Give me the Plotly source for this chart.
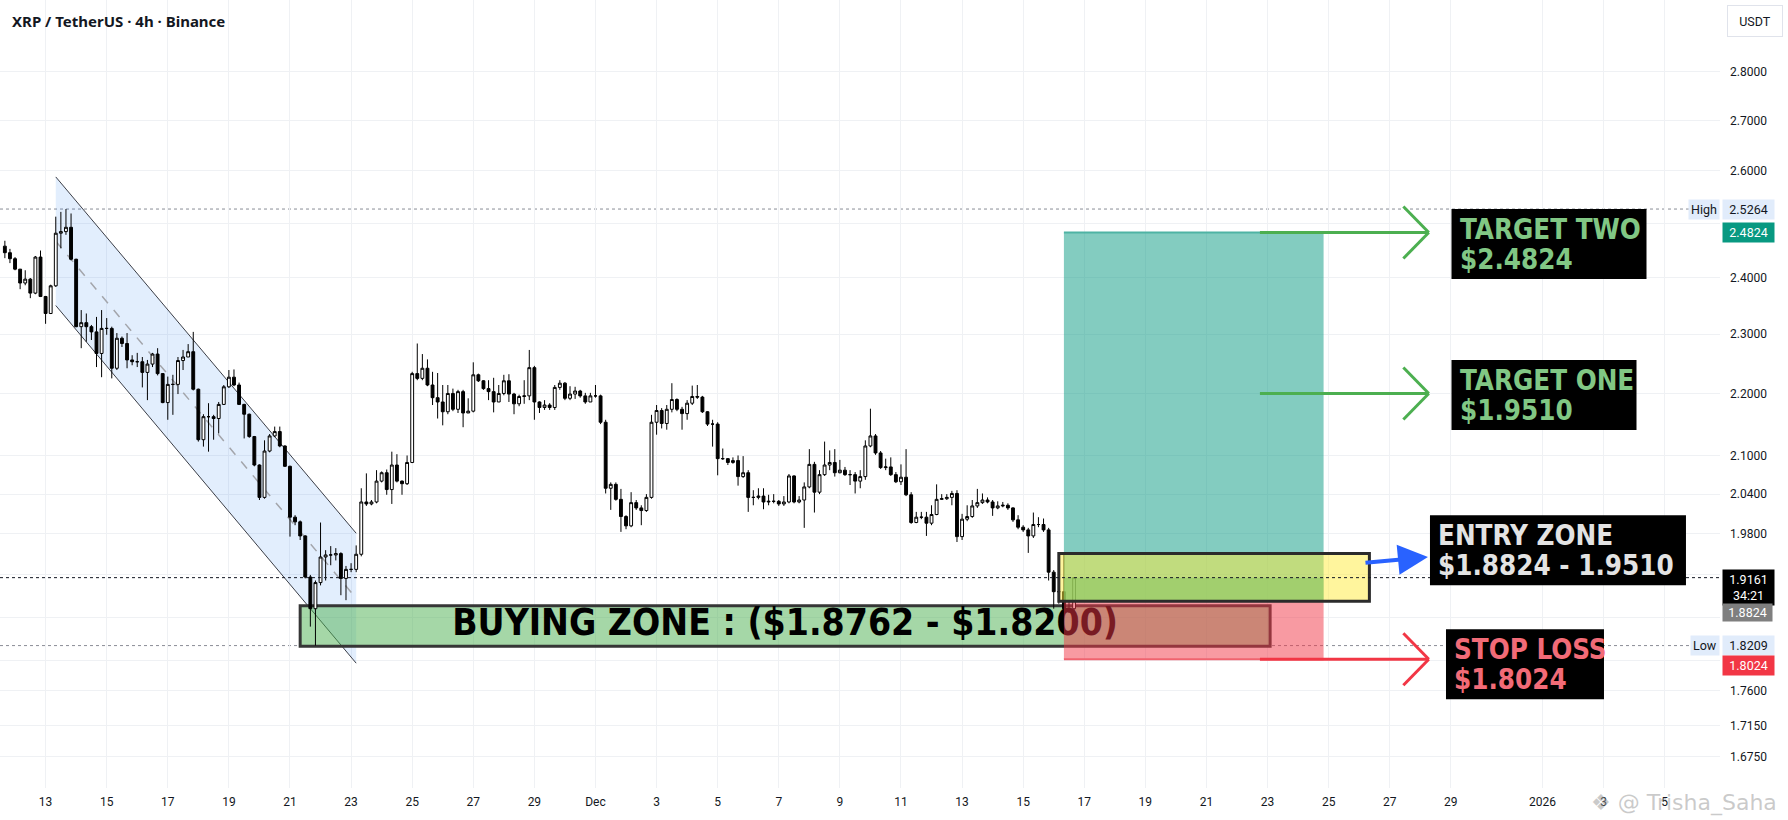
import math
import pandas as pd
import plotly.graph_objects as go

# ---------------- candle data (XRP / USDT, 4h) ----------------
candle_start = "2025-11-11 16:00"
candle_step = "4h"
first_open = 2.457
closes = [
    2.445, 2.434, 2.415, 2.390, 2.397, 2.372, 2.437, 2.366, 2.336, 2.385,
    2.481, 2.484, 2.492, 2.433, 2.313, 2.320, 2.313, 2.304, 2.267, 2.310,
    2.310, 2.242, 2.293, 2.284, 2.256, 2.253, 2.253, 2.235, 2.249, 2.266,
    2.233, 2.185, 2.215, 2.215, 2.255, 2.261, 2.270, 2.207, 2.125, 2.162,
    2.162, 2.159, 2.182, 2.211, 2.227, 2.214, 2.182, 2.166, 2.130, 2.085,
    2.035, 2.107, 2.131, 2.138, 2.115, 2.083, 2.005, 1.998, 1.977, 1.917,
    1.872, 1.909, 1.946, 1.949, 1.949, 1.951, 1.915, 1.928, 1.928, 1.950,
    2.028, 2.025, 2.028, 2.060, 2.073, 2.047, 2.085, 2.060, 2.056, 2.089,
    2.233, 2.225, 2.242, 2.214, 2.193, 2.186, 2.170, 2.200, 2.174, 2.203,
    2.168, 2.171, 2.231, 2.221, 2.208, 2.203, 2.186, 2.200, 2.221, 2.199,
    2.183, 2.195, 2.196, 2.243, 2.186, 2.177, 2.181, 2.177, 2.210, 2.217,
    2.192, 2.199, 2.204, 2.196, 2.186, 2.196, 2.196, 2.153, 2.049, 2.055,
    2.032, 2.006, 1.992, 2.027, 2.019, 2.015, 2.035, 2.153, 2.172, 2.151,
    2.174, 2.190, 2.174, 2.167, 2.184, 2.195, 2.194, 2.170, 2.150, 2.150,
    2.095, 2.095, 2.089, 2.092, 2.067, 2.073, 2.035, 2.035, 2.037, 2.028,
    2.029, 2.029, 2.025, 2.028, 2.068, 2.028, 2.031, 2.051, 2.086, 2.043,
    2.070, 2.085, 2.089, 2.073, 2.077, 2.070, 2.070, 2.060, 2.067, 2.115,
    2.131, 2.104, 2.081, 2.082, 2.070, 2.059, 2.066, 2.039, 1.997, 2.005,
    2.005, 1.996, 2.009, 2.032, 2.033, 2.035, 2.041, 1.976, 2.002, 2.006,
    2.022, 2.027, 2.031, 2.028, 2.019, 2.022, 2.023, 2.019, 2.001, 1.990,
    1.986, 1.977, 1.994, 1.994, 1.986, 1.924, 1.896, 1.896, 1.872, 1.872,
    1.9161,
]
highs = [
    2.467, 2.452, 2.437, 2.415, 2.413, 2.399, 2.439, 2.449, 2.367, 2.387,
    2.512, 2.521, 2.5264, 2.518, 2.434, 2.342, 2.336, 2.316, 2.330, 2.342,
    2.328, 2.313, 2.302, 2.296, 2.302, 2.264, 2.268, 2.261, 2.256, 2.268,
    2.276, 2.234, 2.228, 2.231, 2.261, 2.273, 2.283, 2.304, 2.208, 2.166,
    2.184, 2.165, 2.186, 2.214, 2.239, 2.240, 2.218, 2.183, 2.167, 2.131,
    2.086, 2.124, 2.134, 2.146, 2.146, 2.116, 2.084, 2.008, 2.000, 1.978,
    1.920, 1.912, 1.997, 1.956, 1.962, 1.959, 1.953, 1.933, 1.937, 1.963,
    2.049, 2.072, 2.031, 2.077, 2.075, 2.078, 2.106, 2.102, 2.061, 2.100,
    2.236, 2.284, 2.266, 2.257, 2.236, 2.234, 2.214, 2.214, 2.208, 2.206,
    2.206, 2.192, 2.252, 2.233, 2.222, 2.222, 2.226, 2.214, 2.231, 2.232,
    2.201, 2.198, 2.222, 2.273, 2.246, 2.187, 2.189, 2.184, 2.214, 2.222,
    2.219, 2.212, 2.211, 2.206, 2.201, 2.201, 2.214, 2.198, 2.157, 2.058,
    2.058, 2.048, 2.008, 2.043, 2.031, 2.023, 2.040, 2.165, 2.181, 2.176,
    2.181, 2.217, 2.192, 2.178, 2.189, 2.213, 2.214, 2.196, 2.171, 2.157,
    2.153, 2.111, 2.096, 2.097, 2.100, 2.099, 2.077, 2.046, 2.049, 2.049,
    2.039, 2.040, 2.031, 2.037, 2.071, 2.069, 2.037, 2.058, 2.110, 2.090,
    2.077, 2.122, 2.108, 2.110, 2.093, 2.082, 2.077, 2.074, 2.077, 2.124,
    2.175, 2.134, 2.107, 2.095, 2.097, 2.074, 2.086, 2.110, 2.043, 2.013,
    2.013, 2.013, 2.023, 2.055, 2.040, 2.040, 2.045, 2.046, 2.010, 2.023,
    2.031, 2.048, 2.041, 2.035, 2.031, 2.029, 2.028, 2.026, 2.020, 2.008,
    1.993, 1.989, 2.012, 2.005, 2.003, 1.989, 1.927, 1.905, 1.949, 1.884,
    1.917,
]
lows = [
    2.435, 2.426, 2.413, 2.379, 2.386, 2.363, 2.370, 2.365, 2.318, 2.335,
    2.383, 2.453, 2.478, 2.431, 2.312, 2.276, 2.287, 2.290, 2.244, 2.227,
    2.299, 2.225, 2.239, 2.278, 2.242, 2.247, 2.244, 2.210, 2.189, 2.244,
    2.230, 2.184, 2.157, 2.165, 2.199, 2.239, 2.261, 2.205, 2.122, 2.114,
    2.106, 2.125, 2.135, 2.181, 2.209, 2.212, 2.181, 2.127, 2.128, 2.083,
    2.031, 2.033, 2.105, 2.129, 2.113, 2.082, 1.976, 1.993, 1.971, 1.915,
    1.847, 1.8209, 1.905, 1.912, 1.934, 1.941, 1.891, 1.884, 1.924, 1.924,
    1.947, 2.022, 2.023, 2.026, 2.058, 2.039, 2.025, 2.058, 2.039, 2.054,
    2.088, 2.222, 2.222, 2.212, 2.181, 2.159, 2.148, 2.166, 2.171, 2.168,
    2.145, 2.168, 2.169, 2.219, 2.206, 2.189, 2.169, 2.186, 2.197, 2.186,
    2.166, 2.179, 2.183, 2.189, 2.157, 2.168, 2.173, 2.173, 2.173, 2.206,
    2.189, 2.189, 2.191, 2.193, 2.183, 2.186, 2.193, 2.150, 2.041, 2.016,
    2.030, 1.983, 1.987, 1.990, 2.016, 1.993, 2.013, 2.033, 2.133, 2.143,
    2.141, 2.169, 2.171, 2.141, 2.157, 2.181, 2.191, 2.168, 2.147, 2.114,
    2.069, 2.093, 2.085, 2.087, 2.053, 2.065, 2.013, 2.023, 2.032, 2.017,
    2.023, 2.026, 2.022, 2.022, 2.026, 2.026, 2.026, 1.989, 2.049, 2.012,
    2.040, 2.068, 2.077, 2.067, 2.072, 2.068, 2.054, 2.041, 2.049, 2.062,
    2.113, 2.101, 2.079, 2.077, 2.068, 2.057, 2.054, 2.037, 1.995, 1.996,
    2.002, 1.977, 1.993, 2.008, 2.031, 2.031, 2.023, 1.968, 1.971, 1.999,
    2.004, 2.019, 2.025, 2.026, 2.007, 2.017, 2.020, 2.016, 1.998, 1.987,
    1.983, 1.952, 1.974, 1.990, 1.983, 1.912, 1.872, 1.879, 1.865, 1.866,
    1.867,
]
assert len(closes) == len(highs) == len(lows)

# ---------------- axis ticks ----------------
x_tick_dates = ["2025-11-13", "2025-11-15", "2025-11-17", "2025-11-19", "2025-11-21",
                "2025-11-23", "2025-11-25", "2025-11-27", "2025-11-29", "2025-12-01",
                "2025-12-03", "2025-12-05", "2025-12-07", "2025-12-09", "2025-12-11",
                "2025-12-13", "2025-12-15", "2025-12-17", "2025-12-19", "2025-12-21",
                "2025-12-23", "2025-12-25", "2025-12-27", "2025-12-29", "2026-01-01",
                "2026-01-03", "2026-01-05"]
x_tick_labels = ["13", "15", "17", "19", "21", "23", "25", "27", "29", "Dec",
                 "3", "5", "7", "9", "11", "13", "15", "17", "19", "21",
                 "23", "25", "27", "29", "2026", "3", "5"]
y_tick_values = [2.8, 2.7, 2.6, 2.5, 2.4, 2.3, 2.2, 2.1, 2.04, 1.98, 1.92, 1.86, 1.80,
                 1.76, 1.715, 1.675]
y_tick_hidden = [2.5, 1.92, 1.86, 1.80]
x_view = ["2025-11-11 12:11", "2026-01-06 19:26"]
y_view = [1.6364, 2.9553]

# ---------------- key prices ----------------
high_price = 2.5264
low_price = 1.8209
last_price = 1.9161
countdown = "34:21"

# descending channel (anchor dates / prices)
channel_dates = ["2025-11-13 08:00", "2025-11-23 04:00"]
channel_upper = [2.588, 1.981]
channel_lower = [2.350, 1.797]

# buying zone
buy_zone_dates = ["2025-11-21 08:00", "2025-12-23 02:00"]
buy_zone_prices = [1.8200, 1.8762]
buy_zone_label = "BUYING ZONE : ($1.8762 - $1.8200)"

# long position tool
position_dates = ["2025-12-16 08:00", "2025-12-24 20:00"]
entry_price = 1.8824
target_price = 2.4824
stop_price = 1.8024
entry_zone_dates = ["2025-12-16 04:00", "2025-12-26 08:00"]
entry_zone_prices = [1.8824, 1.9510]

# arrows
arrow_dates = ["2025-12-22 18:00", "2025-12-28 06:40"]
arrow_prices = [2.4824, 2.200, 1.8024]
arrow_colors = ["#4caf50", "#4caf50", "#f23645"]
blue_arrow_date = "2025-12-28 06:00"
blue_arrow_price = 1.946

# text labels: lines, anchor date, centre price, text colour, box width
labels = [
    (["TARGET TWO", "$2.4824"], "2025-12-29 00:30", 2.4610, "#81c784", 195),
    (["TARGET ONE", "$1.9510"], "2025-12-29 00:30", 2.1974, "#81c784", 185),
    (["ENTRY ZONE", "$1.8824 - 1.9510"], "2025-12-28 07:35", 1.9560, "#e3e3e3", 256),
    (["STOP LOSS", "$1.8024"], "2025-12-28 20:10", 1.7957, "#f26b77", 158),
]

# ---------------- styles ----------------
AX_FONT = "Roboto, Noto Sans, sans-serif"
LABEL_FONT = "DejaVu Sans Condensed, Liberation Sans Narrow, DejaVu Sans, sans-serif"
GRID = "#eff1f4"
HEAD_HOURS = 20
HEAD_RATIO = 1.0197
LABEL_HALF_RATIO = 1.0266   # half label-box height on the log price scale


def pdate(s):
    return pd.Timestamp(s).strftime("%Y-%m-%d_%H:%M:%S")


def tstr(t):
    return pd.Timestamp(t).strftime("%Y-%m-%d %H:%M:%S")


times = pd.date_range(candle_start, periods=len(closes), freq=candle_step)
opens = [first_open] + closes[:-1]

fig = go.Figure()

shapes = []
# channel fill
d0, d1 = pdate(channel_dates[0]), pdate(channel_dates[1])
shapes.append(dict(
    type="path", xref="x", yref="y", layer="between",
    path=f"M {d0},{channel_upper[0]} L {d1},{channel_upper[1]} L {d1},{channel_lower[1]} L {d0},{channel_lower[0]} Z",
    fillcolor="rgba(33,120,243,0.13)", line=dict(width=0)))
for prices in (channel_upper, channel_lower):
    shapes.append(dict(type="line", xref="x", yref="y", layer="between",
                       x0=channel_dates[0], x1=channel_dates[1], y0=prices[0], y1=prices[1],
                       line=dict(color="#3b3e47", width=1)))
mid0 = math.sqrt(channel_upper[0] * channel_lower[0])
mid1 = math.sqrt(channel_upper[1] * channel_lower[1])
shapes.append(dict(type="line", xref="x", yref="y", layer="between",
                   x0=channel_dates[0], x1=channel_dates[1], y0=mid0, y1=mid1,
                   line=dict(color="#a3a5ab", width=1.5, dash="dash")))
# high / low dotted lines
for p in (high_price, low_price):
    shapes.append(dict(type="line", xref="paper", yref="y", layer="between",
                       x0=0, x1=1, y0=p, y1=p,
                       line=dict(color="#8a8d96", width=1, dash="dot")))
# buying zone
shapes.append(dict(type="rect", xref="x", yref="y", layer="between",
                   x0=buy_zone_dates[0], x1=buy_zone_dates[1],
                   y0=buy_zone_prices[0], y1=buy_zone_prices[1],
                   fillcolor="rgba(76,175,80,0.5)", line=dict(color="#363636", width=3)))
# position tool
shapes.append(dict(type="rect", xref="x", yref="y", layer="above",
                   x0=position_dates[0], x1=position_dates[1], y0=entry_price, y1=target_price,
                   fillcolor="rgba(8,153,129,0.5)", line=dict(width=0)))
shapes.append(dict(type="rect", xref="x", yref="y", layer="above",
                   x0=position_dates[0], x1=position_dates[1], y0=entry_price, y1=last_price,
                   fillcolor="rgba(8,153,129,0.5)", line=dict(width=0)))
shapes.append(dict(type="rect", xref="x", yref="y", layer="above",
                   x0=position_dates[0], x1=position_dates[1], y0=stop_price, y1=entry_price,
                   fillcolor="rgba(242,54,69,0.5)", line=dict(width=0)))
shapes.append(dict(type="line", xref="x", yref="y", layer="above",
                   x0=position_dates[0], x1=position_dates[1], y0=target_price, y1=target_price,
                   line=dict(color="#4fb3a4", width=2)))
shapes.append(dict(type="line", xref="x", yref="y", layer="above",
                   x0=position_dates[0], x1=position_dates[1], y0=stop_price, y1=stop_price,
                   line=dict(color="#f0636f", width=2)))
# entry zone box
shapes.append(dict(type="rect", xref="x", yref="y", layer="above",
                   x0=entry_zone_dates[0], x1=entry_zone_dates[1],
                   y0=entry_zone_prices[0], y1=entry_zone_prices[1],
                   fillcolor="rgba(255,235,59,0.5)", line=dict(color="#2b2b2b", width=3)))
# current price line
shapes.append(dict(type="line", xref="paper", yref="y", layer="above",
                   x0=0, x1=1, y0=last_price, y1=last_price,
                   line=dict(color="#131722", width=1, dash="dot")))
# arrows (shaft + open chevron head)
tip = pd.Timestamp(arrow_dates[1])
back = tip - pd.Timedelta(hours=HEAD_HOURS)
for p, col in zip(arrow_prices, arrow_colors):
    shapes.append(dict(type="line", xref="x", yref="y", layer="above",
                       x0=arrow_dates[0], x1=tstr(tip), y0=p, y1=p,
                       line=dict(color=col, width=3)))
    for f in (HEAD_RATIO, 1 / HEAD_RATIO):
        shapes.append(dict(type="line", xref="x", yref="y", layer="above",
                           x0=tstr(back), x1=tstr(tip), y0=p * f, y1=p,
                           line=dict(color=col, width=3)))
# label backgrounds
for lines, d, p, col, w in labels:
    shapes.append(dict(type="rect", xref="x", yref="y", layer="above",
                       xsizemode="pixel", xanchor=d, x0=0, x1=w,
                       y0=p / LABEL_HALF_RATIO, y1=p * LABEL_HALF_RATIO,
                       fillcolor="#000000", line=dict(width=0)))

# candles
fig.add_trace(go.Candlestick(
    x=times, open=opens, high=highs, low=lows, close=closes,
    increasing=dict(line=dict(color="#000000", width=1), fillcolor="#ffffff"),
    decreasing=dict(line=dict(color="#000000", width=1), fillcolor="#000000"),
    whiskerwidth=0, hoverinfo="skip", showlegend=False))

# buying zone text
bz0, bz1 = pd.Timestamp(buy_zone_dates[0]), pd.Timestamp(buy_zone_dates[1])
fig.add_trace(go.Scatter(
    x=[bz0 + (bz1 - bz0) / 2], y=[math.sqrt(buy_zone_prices[0] * buy_zone_prices[1])],
    mode="text", text=[buy_zone_label], textposition="middle center",
    textfont=dict(size=37, color="#000000", family=LABEL_FONT, weight="bold"),
    hoverinfo="skip", showlegend=False))

annotations = []
# label texts
for lines, d, p, col, w in labels:
    for i, txt in enumerate(lines):
        annotations.append(dict(
            xref="x", yref="y", x=d, y=math.log10(p), xanchor="left", yanchor="middle",
            xshift=6, yshift=15 if i == 0 else -14.5, text=txt, showarrow=False,
            font=dict(size=27.5, color=col, family=LABEL_FONT, weight="bold")))

# blue arrow into entry label
annotations.append(dict(
    xref="x", yref="y", x=blue_arrow_date, y=math.log10(blue_arrow_price), text="",
    showarrow=True, ax=-64, ay=6, arrowhead=2, arrowsize=1.5, arrowwidth=4,
    arrowcolor="#2962ff", standoff=0))

# title
annotations.append(dict(
    xref="paper", yref="paper", x=0, y=1, xanchor="left", yanchor="middle",
    xshift=10, yshift=-21, text="XRP / TetherUS · 4h · Binance", showarrow=False,
    font=dict(size=15, color="#131722", family="Noto Sans, sans-serif", weight="bold")))
# currency button
annotations.append(dict(
    xref="paper", yref="paper", x=1, y=1, xanchor="left", yanchor="top",
    xshift=7, yshift=-5, text="USDT", showarrow=False, width=46, height=22,
    borderpad=4, bordercolor="#e0e3eb", borderwidth=1, bgcolor="#ffffff",
    font=dict(size=12.5, color="#131722", family=AX_FONT)))


def price_tag(price, text, bg, fg, yshift=0, yanchor="middle", pad=2):
    return dict(xref="paper", yref="y", x=1, y=math.log10(price), xanchor="left",
                yanchor=yanchor, xshift=2, yshift=yshift, text=text, showarrow=False,
                bgcolor=bg, borderpad=pad, width=47, align="center",
                font=dict(size=12.5, color=fg, family=AX_FONT))


LIGHT = "#e1ecfb"
annotations.append(price_tag(high_price, f"{high_price:.4f}", LIGHT, "#131722"))
annotations.append(dict(xref="paper", yref="y", x=1, y=math.log10(high_price), xanchor="right",
                        yanchor="middle", xshift=0, text="High", showarrow=False,
                        bgcolor=LIGHT, borderpad=2, font=dict(size=12.5, color="#131722", family=AX_FONT)))
annotations.append(price_tag(target_price, f"{target_price:.4f}", "#089981", "#ffffff"))
annotations.append(price_tag(last_price, f"{last_price:.4f}<br>{countdown}", "#000000", "#ffffff",
                             yshift=9, yanchor="top"))
annotations.append(price_tag(entry_price, f"{entry_price:.4f}", "#7f7f7f", "#ffffff", yshift=-11.5, pad=1))
annotations.append(price_tag(low_price, f"{low_price:.4f}", LIGHT, "#131722"))
annotations.append(dict(xref="paper", yref="y", x=1, y=math.log10(low_price), xanchor="right",
                        yanchor="middle", xshift=0, text="Low", showarrow=False,
                        bgcolor=LIGHT, borderpad=2, font=dict(size=12.5, color="#131722", family=AX_FONT)))
annotations.append(price_tag(stop_price, f"{stop_price:.4f}", "#f23645", "#ffffff", yshift=-6))

# watermark
annotations.append(dict(
    xref="paper", yref="paper", x=1, y=0, xanchor="right", yanchor="middle",
    xshift=59, yshift=-15, text="❖ @ Trisha_Saha", showarrow=False,
    font=dict(size=22, color="rgba(150,150,150,0.5)", family="DejaVu Sans, sans-serif")))

fig.update_layout(
    width=1788, height=820,
    margin=dict(l=0, r=68, t=0, b=32),
    paper_bgcolor="#ffffff", plot_bgcolor="#ffffff",
    showlegend=False, shapes=shapes, annotations=annotations, boxgap=0.2,
    xaxis=dict(type="date", range=x_view, rangeslider=dict(visible=False),
               tickvals=x_tick_dates, ticktext=x_tick_labels, showgrid=True,
               gridcolor=GRID, gridwidth=1, ticks="", zeroline=False, showline=False,
               ticklabelstandoff=5,
               tickfont=dict(size=12, color="#131722", family=AX_FONT)),
    yaxis=dict(type="log", side="right",
               range=[math.log10(y_view[0]), math.log10(y_view[1])],
               tickvals=y_tick_values,
               ticktext=["" if v in y_tick_hidden else f"{v:.4f}" for v in y_tick_values],
               showgrid=True, gridcolor=GRID, gridwidth=1, ticks="", zeroline=False,
               showline=False, ticklabelstandoff=9,
               tickfont=dict(size=12, color="#131722", family=AX_FONT)),
)

fig.write_html("out.html", config={"displayModeBar": False},
               post_script="document.body.style.margin='0';document.body.style.overflow='hidden';")
